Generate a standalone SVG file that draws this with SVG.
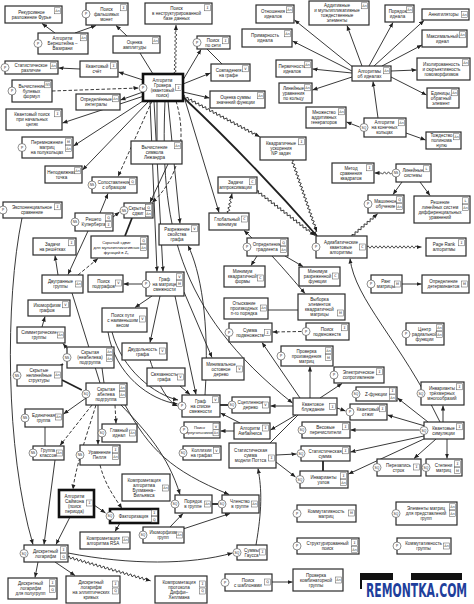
<svg xmlns="http://www.w3.org/2000/svg" width="474" height="604" viewBox="0 0 474 604">
<style>
.b{fill:#fff;stroke:#2b2b2b;stroke-width:1.2}
.B{fill:#fff;stroke:#111;stroke-width:2.6}
.t{font-family:"Liberation Sans",Arial,sans-serif;font-size:4.5px;fill:#1a1a1a;text-anchor:middle}
.k{fill:#fff;stroke:#555;stroke-width:0.5}
.s{font-family:"DejaVu Sans",sans-serif;font-size:3.4px;fill:#222;text-anchor:middle}
.c{fill:#fff;stroke:#444;stroke-width:0.6}
.q{font-family:"Liberation Sans",Arial,sans-serif;font-size:3.3px;fill:#222;text-anchor:middle}
.e{fill:none;stroke:#222;stroke-width:0.9;marker-end:url(#a)}
.p{fill:none;stroke:#222;stroke-width:0.9}
.d{fill:none;stroke:#222;stroke-width:0.9;stroke-dasharray:3.5 2;marker-end:url(#a)}
.w{fill:none;stroke:#222;stroke-width:0.8;marker-end:url(#a)}
.h{stroke-width:1.8}
</style>
<defs>
<marker id="a" viewBox="0 0 6 6" refX="6" refY="3" markerWidth="5" markerHeight="5" orient="auto" markerUnits="userSpaceOnUse"><path d="M0,0.5L6,3L0,5.5z" fill="#222"/></marker>
</defs>
<rect width="474" height="604" fill="#fff"/>
<g id="connectors">
<path class="e" d="M55,33L42,23.5"/>
<path class="e" d="M75,33L96,25.5"/>
<path class="e" d="M127,36L116,25.5"/>
<path class="p" d="M140,53L153,74"/>
<path class="e" d="M143,80L118.5,72"/>
<path class="e" d="M80,69L58.5,68"/>
<path class="d" d="M52,91L138.5,88"/>
<path class="e" d="M143,92L120.5,100"/>
<path class="e" d="M144,96L62.5,123"/>
<path class="e" d="M146,99L73.5,146"/>
<path class="e" d="M149,101L82.5,170"/>
<path class="e" d="M183,80L201,49.5"/>
<path class="e" d="M183,84L210.5,73"/>
<path class="e" d="M183,92L209.5,98"/>
<path class="p" d="M207,49L222,64"/>
<path class="d" d="M152,101L118,176.5"/>
<path class="d" d="M176,101C188,140 178,180 152,202.5"/>
<path class="p" d="M157,101L157,141"/>
<path class="e" d="M168,164L150,202.5"/>
<path class="e" d="M185,100L219,212.5"/>
<path class="e h" d="M183,97Q250,160 317,236"/>
<path class="e" d="M168,101L180,223.5"/>
<path class="e" d="M150,101L157,271.5"/>
<path class="e" d="M154,101L163,271.5"/>
<path class="e" d="M165,101C160,220 175,310 292.5,403"/>
<path class="e" d="M108,332C115,375 150,400 177.5,404"/>
<path class="e" d="M112,332C122,370 155,395 178,400"/>
<path class="e" d="M146,284L123.5,284"/>
<path class="e" d="M152,296L135,307.5"/>
<path class="e" d="M160,296L150,342.5"/>
<path class="e" d="M184,292L212,357.5"/>
<path class="e" d="M175,296L196,394.5"/>
<path class="e" d="M205,395C210,320 200,270 188,245.5"/>
<path class="e" d="M180,386L190,394.5"/>
<path class="e" d="M150,360C158,385 168,402 177.5,406"/>
<path class="p h" d="M232,405L220,405"/>
<path class="e" d="M293,406L270.5,406"/>
<path class="e" d="M240,423L220.5,413"/>
<path class="e" d="M234,431L220.5,431"/>
<path class="e" d="M296,415L270.5,430"/>
<path class="e" d="M300,398L262,342.5"/>
<path class="e" d="M310,398L310,366.5"/>
<path class="d" d="M301.5,331.5L272.5,332"/>
<path class="e" d="M320,398L342,383.5"/>
<path class="e" d="M337,408L345.5,411"/>
<path class="e" d="M428,422L397.5,398"/>
<path class="e" d="M425,426L387.5,415"/>
<path class="e" d="M443,422L443,405.5"/>
<path class="e" d="M419.5,430L350.5,430"/>
<path class="e" d="M424,436L350.5,452"/>
<path class="e" d="M436,439L414,458.5"/>
<path class="e" d="M447,439L447,458.5"/>
<path class="e" d="M426,438L348.5,474"/>
<path class="p h" d="M323,461L323,471"/>
<path class="e" d="M276,455L296.5,454"/>
<path class="e" d="M276,462L295.5,477"/>
<path class="p" d="M298,415L270,443"/>
<path class="e" d="M256,545C262,510 262,490 258,468.5"/>
<path class="e" d="M440,422C400,340 355,300 350,258.5"/>
<path class="e" d="M252,238L244,230.5"/>
<path class="e" d="M257,256L251,265.5"/>
<path class="e" d="M285,256L303,266.5"/>
<path class="e" d="M272,256C285,270 295,282 305,293.5"/>
<path class="p" d="M268,310L298,310"/>
<path class="e" d="M100,213L108,193.5"/>
<path class="e" d="M113,217L119.5,212"/>
<path class="e" d="M88,231L68,274.5"/>
<path class="e" d="M58,275L55,255.5"/>
<path class="d" d="M78,275L98,258.5"/>
<path class="p h" d="M132,218L125,236"/>
<path class="p" d="M72,293L100,383"/>
<path class="e" d="M70,352L63,343.5"/>
<path class="e" d="M42,327L45,316.5"/>
<path class="p h" d="M63,364L60,366"/>
<path class="p" d="M102,368L104,383"/>
<path class="p h" d="M62,380L81.8,390"/>
<path class="e" d="M86,398L63.5,414"/>
<path class="d" d="M115,405L116,423.5"/>
<path class="p" d="M45,427L45,446"/>
<path class="e" d="M98,405L98,444.5"/>
<path class="d" d="M92,405L60,445.5"/>
<path class="d" d="M96,405C85,440 75,470 73,489.5"/>
<path class="d" d="M100,465C105,485 115,498 122,508.5"/>
<path class="e" d="M121,405C145,430 168,455 180,494.5"/>
<path class="e" d="M125,405C150,450 170,470 229,494.5"/>
<path class="e" d="M94,505L105.5,513"/>
<path class="e" d="M70,517L56,544.5"/>
<path class="e" d="M55,460L44,544.5"/>
<path class="e" d="M22,218C5,300 5,450 33,544.5"/>
<path class="e" d="M120,523L115,531.5"/>
<path class="e" d="M170,527L183,513.5"/>
<path class="e" d="M180,530L230,513.5"/>
<path class="p h" d="M212,504L222,504"/>
<path class="e" d="M38,562L35,577.5"/>
<path class="e" d="M55,562L75,575.5"/>
<path class="e" d="M68,553C130,565 190,565 232.5,553"/>
<path class="e" d="M272,582L292.5,582"/>
<path class="e" d="M378,118L373,81.5"/>
<path class="e" d="M359.5,127L346.5,122"/>
<path class="e" d="M406,133L425.5,140"/>
<path class="e" d="M354,68L294.5,20"/>
<path class="e" d="M352,71L292.5,41"/>
<path class="e" d="M352,73L312.5,69"/>
<path class="e" d="M352,77L312.5,90"/>
<path class="e" d="M362,66L347,25.5"/>
<path class="e" d="M369,66L393,22.5"/>
<path class="e" d="M374,66L424,20.5"/>
<path class="e" d="M382,66L422,45"/>
<path class="e" d="M391,71L416.5,70"/>
<path class="e" d="M391,77L426.5,95"/>
<path class="e" d="M402,182L393,194.5"/>
<path class="e" d="M420,182L430,195.5"/>
<path class="e" d="M402,284L421.5,284"/>
<path class="w" transform="translate(175,74) rotate(-88.8)" d="M0,0l1,-1.2l2,2.4l2,-2.4l2,2.4l2,-2.4l2,2.4l2,-2.4l2,2.4l2,-2.4l2,2.4l2,-2.4l2,2.4l2,-2.4l2,2.4l2,-2.4l2,2.4l2,-2.4l2,2.4l2,-2.4l2,2.4l2,-2.4l1,1.2l7,0"/>
<path class="w" transform="translate(183,96) rotate(28)" d="M0,0l1,-1.2l2,2.4l2,-2.4l2,2.4l2,-2.4l2,2.4l2,-2.4l2,2.4l2,-2.4l2,2.4l2,-2.4l2,2.4l2,-2.4l2,2.4l2,-2.4l2,2.4l2,-2.4l2,2.4l2,-2.4l2,2.4l2,-2.4l2,2.4l2,-2.4l2,2.4l2,-2.4l2,2.4l2,-2.4l2,2.4l2,-2.4l2,2.4l2,-2.4l2,2.4l2,-2.4l2,2.4l2,-2.4l2,2.4l2,-2.4l2,2.4l2,-2.4l2,2.4l2,-2.4l1,1.2l5,0"/>
<path class="w" transform="translate(292,160) rotate(71)" d="M0,0l1,-1.2l2,2.4l2,-2.4l2,2.4l2,-2.4l2,2.4l2,-2.4l2,2.4l2,-2.4l2,2.4l2,-2.4l2,2.4l2,-2.4l2,2.4l2,-2.4l2,2.4l2,-2.4l2,2.4l2,-2.4l2,2.4l2,-2.4l2,2.4l2,-2.4l2,2.4l2,-2.4l2,2.4l2,-2.4l2,2.4l2,-2.4l2,2.4l2,-2.4l2,2.4l2,-2.4l2,2.4l2,-2.4l1,1.2l6,0"/>
<path class="w" transform="translate(257,191) rotate(37.6)" d="M0,0l1,-1.2l2,2.4l2,-2.4l2,2.4l2,-2.4l2,2.4l2,-2.4l2,2.4l2,-2.4l2,2.4l2,-2.4l2,2.4l2,-2.4l2,2.4l2,-2.4l2,2.4l2,-2.4l2,2.4l2,-2.4l2,2.4l2,-2.4l2,2.4l2,-2.4l2,2.4l2,-2.4l2,2.4l2,-2.4l2,2.4l2,-2.4l2,2.4l2,-2.4l2,2.4l2,-2.4l1,1.2l7,0"/>
<path class="w" transform="translate(228,213) rotate(-78.4)" d="M0,0l1,-1.2l2,2.4l2,-2.4l2,2.4l2,-2.4l2,2.4l2,-2.4l1,1.2l6,0"/>
<path class="w" transform="translate(352,236) rotate(-40.9)" d="M0,0l1,-1.2l2,2.4l2,-2.4l2,2.4l2,-2.4l2,2.4l2,-2.4l2,2.4l2,-2.4l2,2.4l2,-2.4l2,2.4l2,-2.4l2,2.4l2,-2.4l1,1.2l4,0"/>
<path class="w" transform="translate(391.5,173) rotate(180)" d="M0,0l1,-1.2l2,2.4l2,-2.4l2,2.4l2,-2.4l1,1.2l7,0"/>
<path class="w" transform="translate(367,247)" d="M0,0l1,-1.2l2,2.4l2,-2.4l2,2.4l2,-2.4l2,2.4l2,-2.4l2,2.4l2,-2.4l2,2.4l2,-2.4l2,2.4l2,-2.4l2,2.4l2,-2.4l2,2.4l2,-2.4l2,2.4l2,-2.4l2,2.4l2,-2.4l2,2.4l2,-2.4l2,2.4l2,-2.4l1,1.2l4.5,0"/>
<path class="w" transform="translate(68,557) rotate(16.1)" d="M0,0l1,-1.2l2,2.4l2,-2.4l2,2.4l2,-2.4l2,2.4l2,-2.4l2,2.4l2,-2.4l2,2.4l2,-2.4l2,2.4l2,-2.4l2,2.4l2,-2.4l2,2.4l2,-2.4l2,2.4l2,-2.4l2,2.4l2,-2.4l2,2.4l2,-2.4l2,2.4l2,-2.4l2,2.4l2,-2.4l2,2.4l2,-2.4l2,2.4l2,-2.4l2,2.4l2,-2.4l2,2.4l2,-2.4l2,2.4l2,-2.4l2,2.4l2,-2.4l2,2.4l2,-2.4l1,1.2l4,0"/>
</g>
<g id="nodes">
<g id="n1"><rect class="b" x="5" y="6" width="57" height="17"/><text class="t" x="31.5" y="13.6">Рекурсивное<tspan x="31.5" dy="5">разложение Фурье</tspan></text><rect class="k" x="54.5" y="7.8" width="6" height="6"/><text class="s" x="57.5" y="12.2">Ал</text></g>
<g id="n2"><rect class="b" x="86" y="3" width="42" height="22"/><circle class="c" cx="86" cy="14" r="4"/><text class="q" x="86" y="15.2">P</text><text class="t" x="106.5" y="10.6">Поиск<tspan x="106.5" dy="5">фальшивых</tspan><tspan x="106.5" dy="5">монет</tspan></text><rect class="k" x="120.5" y="4.8" width="6" height="6"/><text class="s" x="123.5" y="9.2">Σ</text></g>
<g id="n3"><rect class="b" x="38" y="33" width="50" height="21"/><circle class="c" cx="38" cy="43.5" r="4"/><text class="q" x="38" y="44.7">P</text><text class="t" x="62.5" y="40.1">Алгоритм<tspan x="62.5" dy="5">Бернштейна –</tspan><tspan x="62.5" dy="5">Вазирани</tspan></text><rect class="k" x="80.5" y="34.8" width="6" height="6"/><text class="s" x="83.5" y="39.2">Ал</text></g>
<g id="n4"><rect class="b" x="113" y="36" width="47" height="17"/><text class="t" x="134.5" y="43.6">Оценка<tspan x="134.5" dy="5">амплитуды</tspan></text><rect class="k" x="152.5" y="37.8" width="6" height="6"/><text class="s" x="155.5" y="42.2">Ал</text></g>
<g id="n5"><rect class="b" x="5" y="61" width="53" height="13"/><circle class="c" cx="5" cy="67.5" r="4"/><text class="q" x="5" y="68.7">P</text><text class="t" x="31" y="66.6">Статистическое<tspan x="31" dy="5">различие</tspan></text><rect class="k" x="50.5" y="62.8" width="6" height="6"/><text class="s" x="53.5" y="67.2">Ал</text></g>
<g id="n6"><rect class="b" x="80" y="61" width="38" height="16"/><text class="t" x="97" y="68.1">Квантовый<tspan x="97" dy="5">счёт</tspan></text><rect class="k" x="110.5" y="62.8" width="6" height="6"/><text class="s" x="113.5" y="67.2">Σ</text></g>
<g id="n7"><rect class="b" x="12" y="80" width="40" height="22"/><circle class="c" cx="12" cy="91" r="4"/><text class="q" x="12" y="92.2">P</text><text class="t" x="31.5" y="87.6">Вычисление<tspan x="31.5" dy="5">булевых</tspan><tspan x="31.5" dy="5">формул</tspan></text><rect class="k" x="44.5" y="81.8" width="6" height="6"/><text class="s" x="47.5" y="86.2">ЛП</text></g>
<g id="n8"><rect class="b" x="76" y="94" width="44" height="16"/><text class="t" x="96" y="101.1">Определённые<tspan x="96" dy="5">интегралы</tspan></text><rect class="k" x="112.5" y="95.8" width="6" height="6"/><text class="s" x="115.5" y="100.2">Ал</text></g>
<g id="n9"><rect class="b" x="6" y="109" width="56" height="21"/><text class="t" x="32" y="116.1">Квантовый поиск<tspan x="32" dy="5">при начальных</tspan><tspan x="32" dy="5">целях</tspan></text><rect class="k" x="54.5" y="110.8" width="6" height="6"/><text class="s" x="57.5" y="115.2">Σ</text></g>
<g id="n10"><rect class="b" x="22" y="137" width="51" height="21"/><circle class="c" cx="22" cy="147.5" r="4"/><text class="q" x="22" y="148.7">P</text><text class="t" x="47" y="144.1">Перемножение<tspan x="47" dy="5">матриц</tspan><tspan x="47" dy="5">на полукольцах</tspan></text><rect class="k" x="65.5" y="138.8" width="6" height="6"/><text class="s" x="68.5" y="143.2">M</text><rect class="k" x="65.5" y="145.6" width="6" height="6"/><text class="s" x="68.5" y="150">Ал</text></g>
<g id="n11"><rect class="B" x="143" y="74" width="40" height="27"/><circle class="c" cx="143" cy="88" r="4"/><text class="q" x="143" y="89.2">P</text><text class="t" x="162.5" y="81.6">Алгоритм<tspan x="162.5" dy="5">Гровера</tspan><tspan x="162.5" dy="5">(квантовый</tspan><tspan x="162.5" dy="5">поиск)</tspan></text><rect class="k" x="175.5" y="84.5" width="6" height="6"/><text class="s" x="178.5" y="88.9">Σ</text></g>
<g id="n12"><rect class="b" x="145" y="3" width="67" height="21"/><text class="t" x="176.5" y="10.1">Поиск<tspan x="176.5" dy="5">в неструктурированной</tspan><tspan x="176.5" dy="5">базе данных</tspan></text><rect class="k" x="204.5" y="4.8" width="6" height="6"/><text class="s" x="207.5" y="9.2">Σ</text></g>
<g id="n13"><rect class="b" x="197" y="36" width="33" height="13"/><circle class="c" cx="197" cy="42.5" r="4"/><text class="q" x="197" y="43.7">P</text><text class="t" x="213" y="41.6">Поиск<tspan x="213" dy="5">по сети</tspan></text><rect class="k" x="222.5" y="37.8" width="6" height="6"/><text class="s" x="225.5" y="42.2">Σ</text></g>
<g id="n14"><rect class="b" x="211" y="64" width="39" height="17"/><text class="t" x="228.5" y="71.6">Совпадения<tspan x="228.5" dy="5">на графе</tspan></text><rect class="k" x="242.5" y="65.8" width="6" height="6"/><text class="s" x="245.5" y="70.2">V</text></g>
<g id="n15"><rect class="b" x="210" y="91" width="55" height="17"/><text class="t" x="235.5" y="98.6">Оценка суммы<tspan x="235.5" dy="5">значений функции</tspan></text><rect class="k" x="257.5" y="92.8" width="6" height="6"/><text class="s" x="260.5" y="97.2">Ал</text></g>
<g id="n16"><rect class="b" x="260" y="137" width="46" height="23"/><text class="t" x="281" y="145.1">Квадратичные<tspan x="281" dy="5">ускорения</tspan><tspan x="281" dy="5">NP задач</tspan></text><rect class="k" x="298.5" y="138.8" width="6" height="6"/><text class="s" x="301.5" y="143.2">Σ</text></g>
<g id="n17"><rect class="b" x="256" y="5" width="38" height="18"/><text class="t" x="273" y="13.1">Отношения<tspan x="273" dy="5">идеалов</tspan></text><rect class="k" x="286.5" y="6.8" width="6" height="6"/><text class="s" x="289.5" y="11.2">Ал</text></g>
<g id="n18"><rect class="b" x="309" y="1" width="60" height="24"/><text class="t" x="337" y="7.1">Аддитивные<tspan x="337" dy="5">и мультипликативные</tspan><tspan x="337" dy="5">тождественные</tspan><tspan x="337" dy="5">элементы</tspan></text><rect class="k" x="361.5" y="2.8" width="6" height="6"/><text class="s" x="364.5" y="7.2">Ал</text></g>
<g id="n19"><rect class="b" x="385" y="5" width="29" height="17"/><text class="t" x="397.5" y="12.6">Порядок<tspan x="397.5" dy="5">идеала</tspan></text><rect class="k" x="406.5" y="6.8" width="6" height="6"/><text class="s" x="409.5" y="11.2">Ал</text></g>
<g id="n20"><rect class="b" x="422" y="9" width="47" height="11"/><text class="t" x="443.5" y="16.1">Аннигиляторы</text><rect class="k" x="461.5" y="11.5" width="6" height="6"/><text class="s" x="464.5" y="15.9">Ал</text></g>
<g id="n21"><rect class="b" x="422" y="30" width="45" height="17"/><text class="t" x="442.5" y="37.6">Максимальный<tspan x="442.5" dy="5">идеал</tspan></text><rect class="k" x="459.5" y="31.8" width="6" height="6"/><text class="s" x="462.5" y="36.2">Ал</text></g>
<g id="n22"><rect class="b" x="417" y="58" width="53" height="22"/><text class="t" x="441.5" y="65.6">Изолированность<tspan x="441.5" dy="5">и сюръективность</tspan><tspan x="441.5" dy="5">гомоморфизмов</tspan></text><rect class="k" x="462.5" y="59.8" width="6" height="6"/><text class="s" x="465.5" y="64.2">Ал</text></g>
<g id="n23"><rect class="b" x="352" y="66" width="39" height="15"/><text class="t" x="369.5" y="72.6">Алгоритмы<tspan x="369.5" dy="5">об идеалах</tspan></text><rect class="k" x="383.5" y="67.8" width="6" height="6"/><text class="s" x="386.5" y="72.2">Ал</text></g>
<g id="n24"><rect class="b" x="427" y="88" width="32" height="20"/><text class="t" x="441" y="94.6">Единицы,<tspan x="441" dy="5">обратный</tspan><tspan x="441" dy="5">элемент</tspan></text><rect class="k" x="451.5" y="89.8" width="6" height="6"/><text class="s" x="454.5" y="94.2">Ал</text></g>
<g id="n25"><rect class="b" x="364" y="118" width="42" height="19"/><circle class="c" cx="364" cy="127.5" r="4"/><text class="q" x="364" y="128.7">SQ</text><text class="t" x="384.5" y="124.1">Алгоритм<tspan x="384.5" dy="5">на конечных</tspan><tspan x="384.5" dy="5">кольцах</tspan></text><rect class="k" x="398.5" y="119.8" width="6" height="6"/><text class="s" x="401.5" y="124.2">Ал</text></g>
<g id="n26"><rect class="b" x="306" y="107" width="40" height="21"/><text class="t" x="324" y="114.1">Множество<tspan x="324" dy="5">аддитивных</tspan><tspan x="324" dy="5">генераторов</tspan></text><rect class="k" x="338.5" y="108.8" width="6" height="6"/><text class="s" x="341.5" y="113.2">Ал</text></g>
<g id="n27"><rect class="b" x="426" y="132" width="35" height="17"/><text class="t" x="441.5" y="137.1">Тождество<tspan x="441.5" dy="5">полинома</tspan><tspan x="441.5" dy="5">нулю</tspan></text><rect class="k" x="453.5" y="133.8" width="6" height="6"/><text class="s" x="456.5" y="138.2">Ал</text></g>
<g id="n28"><rect class="b" x="242" y="29" width="50" height="18"/><text class="t" x="265" y="37.1">Примарность<tspan x="265" dy="5">идеала</tspan></text><rect class="k" x="284.5" y="30.8" width="6" height="6"/><text class="s" x="287.5" y="35.2">Ал</text></g>
<g id="n29"><rect class="b" x="276" y="60" width="36" height="17"/><text class="t" x="292" y="67.6">Первичность<tspan x="292" dy="5">идеалов</tspan></text><rect class="k" x="304.5" y="61.8" width="6" height="6"/><text class="s" x="307.5" y="66.2">Ал</text></g>
<g id="n30"><rect class="b" x="279" y="83" width="33" height="20"/><text class="t" x="293.5" y="89.6">Линейные<tspan x="293.5" dy="5">уравнения</tspan><tspan x="293.5" dy="5">по кольцу</tspan></text><rect class="k" x="304.5" y="84.8" width="6" height="6"/><text class="s" x="307.5" y="89.2">Ал</text></g>
<g id="n31"><rect class="b" x="332" y="163" width="42" height="20"/><text class="t" x="351" y="169.6">Метод<tspan x="351" dy="5">сравнения</tspan><tspan x="351" dy="5">квадратов</tspan></text><rect class="k" x="366.5" y="164.8" width="6" height="6"/><text class="s" x="369.5" y="169.2">Σ</text></g>
<g id="n32"><rect class="b" x="396" y="164" width="35" height="18"/><circle class="c" cx="396" cy="173" r="4"/><text class="q" x="396" y="174.2">NS</text><text class="t" x="413" y="172.1">Линейные<tspan x="413" dy="5">системы</tspan></text><rect class="k" x="423.5" y="165.8" width="6" height="6"/><text class="s" x="426.5" y="170.2">L</text></g>
<g id="n33"><rect class="b" x="368" y="195" width="36" height="18"/><circle class="c" cx="368" cy="204" r="4"/><text class="q" x="368" y="205.2">P</text><text class="t" x="385.5" y="203.1">Машинное<tspan x="385.5" dy="5">обучение</tspan></text><rect class="k" x="396.5" y="196.8" width="6" height="6"/><text class="s" x="399.5" y="201.2">Q</text><rect class="k" x="396.5" y="203.6" width="6" height="6"/><text class="s" x="399.5" y="208">Ал</text></g>
<g id="n34"><rect class="b" x="414" y="196" width="56" height="27"/><text class="t" x="440" y="203.6">Решение<tspan x="440" dy="5">линейных систем</tspan><tspan x="440" dy="5">дифференциальных</tspan><tspan x="440" dy="5">уравнений</tspan></text><rect class="k" x="462.5" y="197.8" width="6" height="6"/><text class="s" x="465.5" y="202.2">L</text><rect class="k" x="462.5" y="204.6" width="6" height="6"/><text class="s" x="465.5" y="209">Ал</text></g>
<g id="n35"><rect class="b" x="316" y="236" width="51" height="22"/><circle class="c" cx="316" cy="247" r="4"/><text class="q" x="316" y="248.2">P</text><text class="t" x="341" y="243.6">Адиабатические<tspan x="341" dy="5">квантовые</tspan><tspan x="341" dy="5">алгоритмы</tspan></text><rect class="k" x="359.5" y="244" width="6" height="6"/><text class="s" x="362.5" y="248.4">C</text></g>
<g id="n36"><rect class="b" x="426" y="238" width="40" height="18"/><text class="t" x="444" y="246.1">Page Rank<tspan x="444" dy="5">алгоритмы</tspan></text><rect class="k" x="458.5" y="239.8" width="6" height="6"/><text class="s" x="461.5" y="244.2">Σ</text></g>
<g id="n37"><rect class="b" x="371" y="275" width="31" height="18"/><circle class="c" cx="371" cy="284" r="4"/><text class="q" x="371" y="285.2">P</text><text class="t" x="386" y="283.1">Ранг<tspan x="386" dy="5">матрицы</tspan></text><rect class="k" x="394.5" y="281" width="6" height="6"/><text class="s" x="397.5" y="285.4">M</text></g>
<g id="n38"><rect class="b" x="422" y="275" width="47" height="18"/><text class="t" x="443.5" y="283.1">Определение<tspan x="443.5" dy="5">детерминантов</tspan></text><rect class="k" x="461.5" y="281" width="6" height="6"/><text class="s" x="464.5" y="285.4">M</text></g>
<g id="n39"><rect class="b" x="45" y="166" width="37" height="17"/><text class="t" x="61.5" y="173.6">Неподвижная<tspan x="61.5" dy="5">точка</tspan></text><rect class="k" x="74.5" y="167.8" width="6" height="6"/><text class="s" x="77.5" y="172.2">Ал</text></g>
<g id="n40"><rect class="b" x="3" y="202" width="59" height="16"/><circle class="c" cx="3" cy="210" r="4"/><text class="q" x="3" y="211.2">P</text><text class="t" x="32" y="209.1">Экспоненциальное<tspan x="32" dy="5">сравнение</tspan></text><rect class="k" x="54.5" y="203.8" width="6" height="6"/><text class="s" x="57.5" y="208.2">Σ</text></g>
<g id="n41"><rect class="b" x="92" y="177" width="45" height="16"/><circle class="c" cx="92" cy="185" r="4"/><text class="q" x="92" y="186.2">NS</text><text class="t" x="114" y="184.1">Сопоставление<tspan x="114" dy="5">с образцом</tspan></text><rect class="k" x="129.5" y="178.8" width="6" height="6"/><text class="s" x="132.5" y="183.2">Q</text></g>
<g id="n42"><rect class="b" x="75" y="213" width="38" height="18"/><circle class="c" cx="75" cy="222" r="4"/><text class="q" x="75" y="223.2">NS</text><text class="t" x="93.5" y="221.1">Решето<tspan x="93.5" dy="5">Куперберга</tspan></text><rect class="k" x="105.5" y="214.8" width="6" height="6"/><text class="s" x="108.5" y="219.2">Q</text><rect class="k" x="105.5" y="221.6" width="6" height="6"/><text class="s" x="108.5" y="226">Σ</text></g>
<g id="n43"><rect class="b" x="124" y="203" width="29" height="15"/><circle class="c" cx="124" cy="210.5" r="4"/><text class="q" x="124" y="211.7">NS</text><text class="t" x="138" y="209.6">Скрытый<tspan x="138" dy="5">сдвиг</tspan></text><rect class="k" x="145.5" y="204.5" width="6" height="6"/><text class="s" x="148.5" y="208.9">Q</text><rect class="k" x="145.5" y="210.8" width="6" height="6"/><text class="s" x="148.5" y="215.2">Ал</text></g>
<g id="n44"><rect class="b" x="33" y="238" width="43" height="17"/><text class="t" x="52.5" y="245.6">Задачи<tspan x="52.5" dy="5">на решётках</tspan></text><rect class="k" x="68.5" y="239.8" width="6" height="6"/><text class="s" x="71.5" y="244.2">Σ</text></g>
<g id="n45"><rect class="b" x="91" y="236" width="57" height="22"/><text class="t" x="116.5" y="243.6" style="font-size:4.1px">Скрытый сдвиг<tspan x="116.5" dy="5">для мультипликативных</tspan><tspan x="116.5" dy="5">функций в Zₙ</tspan></text><rect class="k" x="140.5" y="237.8" width="6" height="6"/><text class="s" x="143.5" y="242.2">Q</text><rect class="k" x="140.5" y="244.6" width="6" height="6"/><text class="s" x="143.5" y="249">Ал</text></g>
<g id="n46"><rect class="b" x="42" y="275" width="41" height="18"/><text class="t" x="60.5" y="283.1">Двугранные<tspan x="60.5" dy="5">группы</tspan></text><rect class="k" x="75.5" y="281" width="6" height="6"/><text class="s" x="78.5" y="285.4">Ал</text></g>
<g id="n47"><rect class="b" x="88" y="275" width="35" height="17"/><text class="t" x="103.5" y="282.6">Поиск<tspan x="103.5" dy="5">подграфов</tspan></text><rect class="k" x="115.5" y="280" width="6" height="6"/><text class="s" x="118.5" y="284.4">V</text></g>
<g id="n48"><rect class="b" x="131" y="141" width="51" height="23"/><text class="t" x="154.5" y="149.1">Вычисление<tspan x="154.5" dy="5">символа</tspan><tspan x="154.5" dy="5">Лежандра</tspan></text><rect class="k" x="174.5" y="142.8" width="6" height="6"/><text class="s" x="177.5" y="147.2">Ал</text></g>
<g id="n49"><rect class="b" x="218" y="177" width="39" height="16"/><text class="t" x="235.5" y="184.1">Задачи<tspan x="235.5" dy="5">аппроксимации</tspan></text><rect class="k" x="249.5" y="178.8" width="6" height="6"/><text class="s" x="252.5" y="183.2">C</text></g>
<g id="n50"><rect class="b" x="209" y="213" width="40" height="17"/><text class="t" x="227" y="220.6">Глобальный<tspan x="227" dy="5">минимум</tspan></text><rect class="k" x="241.5" y="216" width="6" height="6"/><text class="s" x="244.5" y="220.4">C</text></g>
<g id="n51"><rect class="b" x="159" y="224" width="40" height="21"/><text class="t" x="177" y="231.1">Разрежение<tspan x="177" dy="5">свойства</tspan><tspan x="177" dy="5">графа</tspan></text><rect class="k" x="191.5" y="225.8" width="6" height="6"/><text class="s" x="194.5" y="230.2">V</text></g>
<g id="n52"><rect class="b" x="247" y="238" width="41" height="18"/><circle class="c" cx="247" cy="247" r="4"/><text class="q" x="247" y="248.2">P</text><text class="t" x="267" y="246.1">Определение<tspan x="267" dy="5">градиента</tspan></text><rect class="k" x="280.5" y="239.8" width="6" height="6"/><text class="s" x="283.5" y="244.2">Q</text><rect class="k" x="280.5" y="246.6" width="6" height="6"/><text class="s" x="283.5" y="251">Ал</text></g>
<g id="n53"><rect class="b" x="224" y="266" width="41" height="21"/><text class="t" x="242.5" y="273.1">Минимум<tspan x="242.5" dy="5">квадратичной</tspan><tspan x="242.5" dy="5">формы</tspan></text><rect class="k" x="257.5" y="275" width="6" height="6"/><text class="s" x="260.5" y="279.4">C</text></g>
<g id="n54"><rect class="b" x="299" y="267" width="41" height="19"/><text class="t" x="317.5" y="273.1">Минимум<tspan x="317.5" dy="5">разреженной</tspan><tspan x="317.5" dy="5">функции</tspan></text><rect class="k" x="332.5" y="273" width="6" height="6"/><text class="s" x="335.5" y="277.4">C</text></g>
<g id="n55"><rect class="b" x="146" y="272" width="38" height="24"/><circle class="c" cx="146" cy="284" r="4"/><text class="q" x="146" y="285.2">P</text><text class="t" x="164.5" y="280.6">Граф<tspan x="164.5" dy="5">на матрице</tspan><tspan x="164.5" dy="5">смежности</tspan></text><rect class="k" x="176.5" y="273.8" width="6" height="6"/><text class="s" x="179.5" y="278.2">V</text><rect class="k" x="176.5" y="280.6" width="6" height="6"/><text class="s" x="179.5" y="285">M</text></g>
<g id="n56"><rect class="b" x="224" y="298" width="44" height="21"/><text class="t" x="244" y="305.1">Отыскание<tspan x="244" dy="5">производных</tspan><tspan x="244" dy="5">n-го порядка</tspan></text><rect class="k" x="260.5" y="305" width="6" height="6"/><text class="s" x="263.5" y="309.4">Ал</text></g>
<g id="n57"><rect class="b" x="298" y="294" width="47" height="26"/><text class="t" x="319.5" y="301.1">Выборка<tspan x="319.5" dy="5">элементов</tspan><tspan x="319.5" dy="5">квадратичной</tspan><tspan x="319.5" dy="5">матрицы</tspan></text><rect class="k" x="337.5" y="310" width="6" height="6"/><text class="s" x="340.5" y="314.4">M</text></g>
<g id="n58"><rect class="b" x="229" y="323" width="43" height="19"/><circle class="c" cx="229" cy="332.5" r="4"/><text class="q" x="229" y="333.7">P</text><text class="t" x="250" y="331.6">Сумма<tspan x="250" dy="5">подмножеств</tspan></text><rect class="k" x="264.5" y="329.5" width="6" height="6"/><text class="s" x="267.5" y="333.9">Σ</text></g>
<g id="n59"><rect class="b" x="306" y="323" width="43" height="17"/><circle class="c" cx="306" cy="331.5" r="4"/><text class="q" x="306" y="332.7">P</text><text class="t" x="327" y="330.6">Поиск<tspan x="327" dy="5">подмножеств</tspan></text><rect class="k" x="341.5" y="324.8" width="6" height="6"/><text class="s" x="344.5" y="329.2">Σ</text></g>
<g id="n60"><rect class="b" x="281" y="346" width="52" height="20"/><circle class="c" cx="281" cy="356" r="4"/><text class="q" x="281" y="357.2">P</text><text class="t" x="306.5" y="352.6">Проверка<tspan x="306.5" dy="5">произведения</tspan><tspan x="306.5" dy="5">матриц</tspan></text><rect class="k" x="325.5" y="347.8" width="6" height="6"/><text class="s" x="328.5" y="352.2">Ал</text><rect class="k" x="325.5" y="354.6" width="6" height="6"/><text class="s" x="328.5" y="359">M</text></g>
<g id="n61"><rect class="b" x="406" y="323" width="38" height="22"/><circle class="c" cx="406" cy="334" r="4"/><text class="q" x="406" y="335.2">P</text><text class="t" x="424.5" y="330.6">Центр<tspan x="424.5" dy="5">радиальной</tspan><tspan x="424.5" dy="5">функции</tspan></text><rect class="k" x="436.5" y="324.8" width="6" height="6"/><text class="s" x="439.5" y="329.2">Ал</text><rect class="k" x="436.5" y="331.6" width="6" height="6"/><text class="s" x="439.5" y="336">Ал</text></g>
<g id="n62"><rect class="b" x="334" y="367" width="50" height="16"/><circle class="c" cx="334" cy="375" r="4"/><text class="q" x="334" y="376.2">P</text><text class="t" x="358.5" y="374.1">Электрическое<tspan x="358.5" dy="5">сопротивление</tspan></text><rect class="k" x="376.5" y="368.8" width="6" height="6"/><text class="s" x="379.5" y="373.2">Σ</text></g>
<g id="n63"><rect class="b" x="356" y="387" width="41" height="14"/><circle class="c" cx="356" cy="394" r="4"/><text class="q" x="356" y="395.2">SQ</text><text class="t" x="376" y="395.6">Z-функции</text><rect class="k" x="389.5" y="388" width="6" height="6"/><text class="s" x="392.5" y="392.4">Σ</text><rect class="k" x="389.5" y="394.5" width="6" height="6"/><text class="s" x="392.5" y="398.9">Ал</text></g>
<g id="n64"><rect class="b" x="350" y="404" width="37" height="16"/><circle class="c" cx="350" cy="412" r="4"/><text class="q" x="350" y="413.2">P</text><text class="t" x="368" y="411.1">Квантовый<tspan x="368" dy="5">отжиг</tspan></text><rect class="k" x="379.5" y="405.8" width="6" height="6"/><text class="s" x="382.5" y="410.2">Σ</text></g>
<g id="n65"><rect class="b" x="421" y="382" width="43" height="23"/><circle class="c" cx="421" cy="393.5" r="4"/><text class="q" x="421" y="394.7">SQ</text><text class="t" x="442" y="390.1">Инварианты<tspan x="442" dy="5">трёхмерных</tspan><tspan x="442" dy="5">многообразий</tspan></text><rect class="k" x="456.5" y="383.8" width="6" height="6"/><text class="s" x="459.5" y="388.2">Σ</text></g>
<g id="n66"><rect class="b" x="424" y="422" width="40" height="17"/><circle class="c" cx="424" cy="430.5" r="4"/><text class="q" x="424" y="431.7">SQ</text><text class="t" x="443.5" y="429.6">Квантовые<tspan x="443.5" dy="5">симуляции</tspan></text><rect class="k" x="456.5" y="423.8" width="6" height="6"/><text class="s" x="459.5" y="428.2">Σ</text></g>
<g id="n67"><rect class="b" x="293" y="398" width="44" height="17"/><text class="t" x="313" y="405.6">Квантовое<tspan x="313" dy="5">блуждание</tspan></text><rect class="k" x="329.5" y="403.5" width="6" height="6"/><text class="s" x="332.5" y="407.9">Σ</text></g>
<g id="n68"><rect class="b" x="302" y="422" width="48" height="16"/><circle class="c" cx="302" cy="430" r="4"/><text class="q" x="302" y="431.2">SQ</text><text class="t" x="325.5" y="429.1">Весовые<tspan x="325.5" dy="5">перечислители</tspan></text><rect class="k" x="342.5" y="423.8" width="6" height="6"/><text class="s" x="345.5" y="428.2">Σ</text></g>
<g id="n69"><rect class="b" x="232" y="397" width="38" height="16"/><circle class="c" cx="232" cy="405" r="4"/><text class="q" x="232" y="406.2">SQ</text><text class="t" x="250.5" y="404.1">Сцепленное<tspan x="250.5" dy="5">дерево</tspan></text><rect class="k" x="262.5" y="402" width="6" height="6"/><text class="s" x="265.5" y="406.4">V</text></g>
<g id="n70"><rect class="b" x="182" y="395" width="38" height="22"/><circle class="c" cx="182" cy="406" r="4"/><text class="q" x="182" y="407.2">P</text><text class="t" x="200.5" y="402.6">Граф<tspan x="200.5" dy="5">на списке</tspan><tspan x="200.5" dy="5">смежности</tspan></text><rect class="k" x="212.5" y="396.8" width="6" height="6"/><text class="s" x="215.5" y="401.2">V</text></g>
<g id="n71"><rect class="b" x="202" y="358" width="42" height="22"/><text class="t" x="221" y="365.6">Минимальное<tspan x="221" dy="5">остовное</tspan><tspan x="221" dy="5">дерево</tspan></text><rect class="k" x="236.5" y="366" width="6" height="6"/><text class="s" x="239.5" y="370.4">V</text></g>
<g id="n72"><rect class="b" x="147" y="368" width="38" height="18"/><text class="t" x="164" y="376.1">Связанность<tspan x="164" dy="5">графа</tspan></text><rect class="k" x="177.5" y="374" width="6" height="6"/><text class="s" x="180.5" y="378.4">V</text></g>
<g id="n73"><rect class="b" x="122" y="343" width="45" height="17"/><text class="t" x="142.5" y="350.6">Двудольность<tspan x="142.5" dy="5">графа</tspan></text><rect class="k" x="159.5" y="348" width="6" height="6"/><text class="s" x="162.5" y="352.4">V</text></g>
<g id="n74"><rect class="b" x="102" y="308" width="45" height="24"/><text class="t" x="122.5" y="316.6">Поиск пути<tspan x="122.5" dy="5">с наименьшим</tspan><tspan x="122.5" dy="5">весом</tspan></text><rect class="k" x="139.5" y="316" width="6" height="6"/><text class="s" x="142.5" y="320.4">V</text></g>
<g id="n75"><rect class="b" x="234" y="423" width="36" height="16"/><text class="t" x="250" y="430.1">Алгоритм<tspan x="250" dy="5">Амбайниса</tspan></text><rect class="k" x="262.5" y="425" width="6" height="6"/><text class="s" x="265.5" y="429.4">Σ</text></g>
<g id="n76"><rect class="b" x="184" y="422" width="36" height="16"/><circle class="c" cx="184" cy="430" r="4"/><text class="q" x="184" y="431.2">P</text><text class="t" x="199.5" y="429.1" style="font-size:4px">Поиск<tspan x="199.5" dy="5">треугольников</tspan></text><rect class="k" x="213" y="423.3" width="6" height="6"/><text class="s" x="216" y="427.7">V</text><rect class="k" x="213" y="429.8" width="6" height="6"/><text class="s" x="216" y="434.2">Ал</text></g>
<g id="n77"><rect class="b" x="229" y="443" width="47" height="25"/><text class="t" x="250.5" y="452.1">Статистическая<tspan x="250.5" dy="5">сумма</tspan><tspan x="250.5" dy="5">модели Поттса</tspan></text><rect class="k" x="268.5" y="455" width="6" height="6"/><text class="s" x="271.5" y="459.4">Σ</text></g>
<g id="n78"><rect class="b" x="183" y="446" width="38" height="14"/><circle class="c" cx="183" cy="453" r="4"/><text class="q" x="183" y="454.2">SQ</text><text class="t" x="201.5" y="452.1">Коллизии<tspan x="201.5" dy="5">на графах</tspan></text><rect class="k" x="213.5" y="447.3" width="6" height="6"/><text class="s" x="216.5" y="451.7">V</text></g>
<g id="n79"><rect class="b" x="377" y="459" width="44" height="17"/><circle class="c" cx="377" cy="467.5" r="4"/><text class="q" x="377" y="468.7">SQ</text><text class="t" x="398.5" y="466.6">Перезапись<tspan x="398.5" dy="5">строк</tspan></text><rect class="k" x="413.5" y="464" width="6" height="6"/><text class="s" x="416.5" y="468.4">Σ</text></g>
<g id="n80"><rect class="b" x="426" y="459" width="36" height="17"/><circle class="c" cx="426" cy="467.5" r="4"/><text class="q" x="426" y="468.7">SQ</text><text class="t" x="443.5" y="466.6">Степени<tspan x="443.5" dy="5">матриц</tspan></text><rect class="k" x="454.5" y="460.8" width="6" height="6"/><text class="s" x="457.5" y="465.2">Σ</text><rect class="k" x="454.5" y="467.4" width="6" height="6"/><text class="s" x="457.5" y="471.8">M</text></g>
<g id="n81"><rect class="b" x="301" y="446" width="49" height="15"/><circle class="c" cx="301" cy="453.5" r="4"/><text class="q" x="301" y="454.7">SQ</text><text class="t" x="325" y="452.6">Статистическая<tspan x="325" dy="5">сумма</tspan></text><rect class="k" x="342.5" y="447.8" width="6" height="6"/><text class="s" x="345.5" y="452.2">Σ</text></g>
<g id="n82"><rect class="b" x="300" y="471" width="48" height="17"/><circle class="c" cx="300" cy="479.5" r="4"/><text class="q" x="300" y="480.7">SQ</text><text class="t" x="323.5" y="478.6">Инварианты<tspan x="323.5" dy="5">узлов</tspan></text><rect class="k" x="340.5" y="472.8" width="6" height="6"/><text class="s" x="343.5" y="477.2">Σ</text><rect class="k" x="340.5" y="479.5" width="6" height="6"/><text class="s" x="343.5" y="483.9">Ал</text></g>
<g id="n83"><rect class="b" x="297" y="505" width="59" height="17"/><circle class="c" cx="297" cy="513.5" r="4"/><text class="q" x="297" y="514.7">P</text><text class="t" x="326" y="512.6">Коммутативность<tspan x="326" dy="5">матриц</tspan></text><rect class="k" x="348.5" y="510" width="6" height="6"/><text class="s" x="351.5" y="514.4">M</text></g>
<g id="n84"><rect class="b" x="396" y="502" width="61" height="23"/><circle class="c" cx="396" cy="513.5" r="4"/><text class="q" x="396" y="514.7">SQ</text><text class="t" x="426" y="510.1">Элементы матриц<tspan x="426" dy="5">для представлений</tspan><tspan x="426" dy="5">групп</tspan></text><rect class="k" x="449.5" y="503.8" width="6" height="6"/><text class="s" x="452.5" y="508.2">Ал</text><rect class="k" x="449.5" y="510.6" width="6" height="6"/><text class="s" x="452.5" y="515">Ал</text></g>
<g id="n85"><rect class="b" x="297" y="538" width="62" height="16"/><circle class="c" cx="297" cy="546" r="4"/><text class="q" x="297" y="547.2">P</text><text class="t" x="327.5" y="545.1">Структурированный<tspan x="327.5" dy="5">поиск</tspan></text><rect class="k" x="351.5" y="539.6" width="6" height="6"/><text class="s" x="354.5" y="544">Σ</text><rect class="k" x="351.5" y="546.2" width="6" height="6"/><text class="s" x="354.5" y="550.6">Ал</text></g>
<g id="n86"><rect class="b" x="397" y="538" width="54" height="16"/><circle class="c" cx="397" cy="546" r="4"/><text class="q" x="397" y="547.2">P</text><text class="t" x="423.5" y="545.1">Коммутативность<tspan x="423.5" dy="5">группы</tspan></text><rect class="k" x="443.5" y="543" width="6" height="6"/><text class="s" x="446.5" y="547.4">Ал</text></g>
<g id="n87"><rect class="b" x="293" y="569" width="50" height="22"/><text class="t" x="316" y="576.6">Проверка<tspan x="316" dy="5">комбинаторной</tspan><tspan x="316" dy="5">группы</tspan></text><rect class="k" x="335.5" y="577" width="6" height="6"/><text class="s" x="338.5" y="581.4">Ал</text></g>
<g id="n88"><rect class="b" x="225" y="574" width="47" height="17"/><circle class="c" cx="225" cy="582.5" r="4"/><text class="q" x="225" y="583.7">P</text><text class="t" x="248" y="581.6">Поиск<tspan x="248" dy="5">с шаблонами</tspan></text><rect class="k" x="264.5" y="579" width="6" height="6"/><text class="s" x="267.5" y="583.4">Q</text></g>
<g id="n89"><rect class="b" x="28" y="300" width="42" height="16"/><text class="t" x="47" y="307.1">Изоморфизм<tspan x="47" dy="5">графов</tspan></text><rect class="k" x="62.5" y="301.8" width="6" height="6"/><text class="s" x="65.5" y="306.2">V</text></g>
<g id="n90"><rect class="b" x="17" y="327" width="48" height="16"/><text class="t" x="39" y="334.1">Симметрические<tspan x="39" dy="5">группы</tspan></text><rect class="k" x="57.5" y="332" width="6" height="6"/><text class="s" x="60.5" y="336.4">Ал</text></g>
<g id="n91"><rect class="b" x="67" y="347" width="47" height="21"/><circle class="c" cx="67" cy="357.5" r="4"/><text class="q" x="67" y="358.7">NS</text><text class="t" x="90" y="354.1">Скрытая<tspan x="90" dy="5">(неабелева)</tspan><tspan x="90" dy="5">подгруппа</tspan></text><rect class="k" x="106.5" y="348.8" width="6" height="6"/><text class="s" x="109.5" y="353.2">Ал</text><rect class="k" x="106.5" y="355.6" width="6" height="6"/><text class="s" x="109.5" y="360">Ал</text></g>
<g id="n92"><rect class="b" x="17" y="365" width="45" height="21"/><circle class="c" cx="17" cy="375.5" r="4"/><text class="q" x="17" y="376.7">NS</text><text class="t" x="39" y="372.1">Скрытые<tspan x="39" dy="5">нелинейные</tspan><tspan x="39" dy="5">структуры</tspan></text><rect class="k" x="54.5" y="372" width="6" height="6"/><text class="s" x="57.5" y="376.4">Ал</text></g>
<g id="n93"><rect class="b" x="86" y="383" width="41" height="22"/><circle class="c" cx="86" cy="394" r="4"/><text class="q" x="86" y="395.2">SQ</text><text class="t" x="106" y="390.6">Скрытая<tspan x="106" dy="5">абелева</tspan><tspan x="106" dy="5">подгруппа</tspan></text><rect class="k" x="119.5" y="384.8" width="6" height="6"/><text class="s" x="122.5" y="389.2">Ал</text><rect class="k" x="119.5" y="391.6" width="6" height="6"/><text class="s" x="122.5" y="396">Ал</text></g>
<g id="n94"><rect class="b" x="25" y="409" width="38" height="18"/><circle class="c" cx="25" cy="418" r="4"/><text class="q" x="25" y="419.2">NS</text><text class="t" x="43.5" y="417.1">Единичная<tspan x="43.5" dy="5">группа</tspan></text><rect class="k" x="55.5" y="414" width="6" height="6"/><text class="s" x="58.5" y="418.4">Ал</text></g>
<g id="n95"><rect class="b" x="102" y="424" width="35" height="18"/><circle class="c" cx="102" cy="433" r="4"/><text class="q" x="102" y="434.2">SQ</text><text class="t" x="119" y="432.1">Главный<tspan x="119" dy="5">идеал</tspan></text><rect class="k" x="129.5" y="430" width="6" height="6"/><text class="s" x="132.5" y="434.4">Ал</text></g>
<g id="n96"><rect class="b" x="33" y="446" width="31" height="14"/><circle class="c" cx="33" cy="453" r="4"/><text class="q" x="33" y="454.2">NS</text><text class="t" x="48" y="452.1">Группа<tspan x="48" dy="5">классов</tspan></text><rect class="k" x="56.5" y="450" width="6" height="6"/><text class="s" x="59.5" y="454.4">Ал</text></g>
<g id="n97"><rect class="b" x="80" y="445" width="40" height="20"/><circle class="c" cx="80" cy="455" r="4"/><text class="q" x="80" y="456.2">NS</text><text class="t" x="99.5" y="454.1">Уравнение<tspan x="99.5" dy="5">Пелля</tspan></text><rect class="k" x="112.5" y="446.8" width="6" height="6"/><text class="s" x="115.5" y="451.2">Σ</text><rect class="k" x="112.5" y="453.6" width="6" height="6"/><text class="s" x="115.5" y="458">Ал</text></g>
<g id="n98"><rect class="b" x="122" y="474" width="48" height="27"/><text class="t" x="144" y="481.6">Компрометация<tspan x="144" dy="5">алгоритма</tspan><tspan x="144" dy="5">Бухманна–</tspan><tspan x="144" dy="5">Вильямса</tspan></text><rect class="k" x="162.5" y="485" width="6" height="6"/><text class="s" x="165.5" y="489.4">Ал</text></g>
<g id="n99"><rect class="B" x="59" y="490" width="35" height="27"/><text class="t" x="74.5" y="497.6">Алгоритм<tspan x="74.5" dy="5">Саймона</tspan><tspan x="74.5" dy="5">(поиск</tspan><tspan x="74.5" dy="5">периода)</tspan></text><rect class="k" x="86.5" y="500" width="6" height="6"/><text class="s" x="89.5" y="504.4">Σ</text></g>
<g id="n100"><rect class="B" x="110" y="509" width="48" height="14"/><circle class="c" cx="110" cy="516" r="4"/><text class="q" x="110" y="517.2">SQ</text><text class="t" x="133.5" y="517.6">Факторизация</text><rect class="k" x="151.5" y="510" width="5.8" height="5.8"/><text class="s" x="154.4" y="514.2">Σ</text><rect class="k" x="151.5" y="516.3" width="5.8" height="5.8"/><text class="s" x="154.4" y="520.5">Q</text></g>
<g id="n101"><rect class="b" x="80" y="532" width="50" height="17"/><text class="t" x="103" y="539.6">Компрометация<tspan x="103" dy="5">алгоритма RSA</tspan></text><rect class="k" x="122.5" y="537" width="6" height="6"/><text class="s" x="125.5" y="541.4">Ал</text></g>
<g id="n102"><rect class="b" x="143" y="527" width="41" height="16"/><circle class="c" cx="143" cy="535" r="4"/><text class="q" x="143" y="536.2">SQ</text><text class="t" x="163" y="534.1">Изоморфизм<tspan x="163" dy="5">групп</tspan></text><rect class="k" x="176.5" y="532" width="6" height="6"/><text class="s" x="179.5" y="536.4">Ал</text></g>
<g id="n103"><rect class="b" x="175" y="495" width="37" height="18"/><circle class="c" cx="175" cy="504" r="4"/><text class="q" x="175" y="505.2">SQ</text><text class="t" x="193" y="503.1">Порядок<tspan x="193" dy="5">в группе</tspan></text><rect class="k" x="204.5" y="501" width="6" height="6"/><text class="s" x="207.5" y="505.4">Ал</text></g>
<g id="n104"><rect class="b" x="222" y="495" width="37" height="18"/><circle class="c" cx="222" cy="504" r="4"/><text class="q" x="222" y="505.2">SQ</text><text class="t" x="240" y="503.1">Членство<tspan x="240" dy="5">в группе</tspan></text><rect class="k" x="251.5" y="501" width="6" height="6"/><text class="s" x="254.5" y="505.4">Ал</text></g>
<g id="n105"><rect class="b" x="24" y="545" width="44" height="17"/><circle class="c" cx="24" cy="553.5" r="4"/><text class="q" x="24" y="554.7">SQ</text><text class="t" x="45.5" y="552.6">Дискретный<tspan x="45.5" dy="5">логарифм</tspan></text><rect class="k" x="60.5" y="546.8" width="6" height="6"/><text class="s" x="63.5" y="551.2">Σ</text><rect class="k" x="60.5" y="553.4" width="6" height="6"/><text class="s" x="63.5" y="557.8">Q</text></g>
<g id="n106"><rect class="b" x="8" y="578" width="49" height="21"/><text class="t" x="30.5" y="585.1">Дискретный<tspan x="30.5" dy="5">логарифм</tspan><tspan x="30.5" dy="5">для полугрупп</tspan></text><rect class="k" x="49.5" y="579.8" width="6" height="6"/><text class="s" x="52.5" y="584.2">Σ</text><rect class="k" x="49.5" y="586.6" width="6" height="6"/><text class="s" x="52.5" y="591">Q</text></g>
<g id="n107"><rect class="b" x="66" y="576" width="54" height="27"/><text class="t" x="91" y="583.6">Дискретный<tspan x="91" dy="5">логарифм</tspan><tspan x="91" dy="5">на эллиптических</tspan><tspan x="91" dy="5">кривых</tspan></text><rect class="k" x="112.5" y="581" width="6" height="6"/><text class="s" x="115.5" y="585.4">Σ</text><rect class="k" x="112.5" y="588" width="6" height="6"/><text class="s" x="115.5" y="592.4">Q</text></g>
<g id="n108"><rect class="b" x="155" y="576" width="52" height="27"/><text class="t" x="179" y="583.6">Компрометация<tspan x="179" dy="5">протокола</tspan><tspan x="179" dy="5">Диффи–</tspan><tspan x="179" dy="5">Хеллмана</tspan></text><rect class="k" x="199.5" y="581" width="6" height="6"/><text class="s" x="202.5" y="585.4">Σ</text><rect class="k" x="199.5" y="588" width="6" height="6"/><text class="s" x="202.5" y="592.4">Q</text></g>
<g id="n109"><rect class="b" x="237" y="545" width="30" height="15"/><circle class="c" cx="237" cy="552.5" r="4"/><text class="q" x="237" y="553.7">SQ</text><text class="t" x="251.5" y="551.6">Суммы<tspan x="251.5" dy="5">Гаусса</tspan></text><rect class="k" x="259.5" y="549" width="6" height="6"/><text class="s" x="262.5" y="553.4">Σ</text></g>
</g>
<g id="watermark">
<rect x="360" y="573" width="33" height="16" fill="#111"/>
<rect x="411" y="573" width="51" height="16" fill="#111"/>
<rect x="362" y="580" width="112" height="24" fill="#fff"/>
<text transform="translate(366,597) scale(0.57,1)" font-family="'DejaVu Sans',sans-serif" font-weight="bold" font-size="19" fill="#1f3f9c">REMONTKA.COM</text>
</g>
</svg>
